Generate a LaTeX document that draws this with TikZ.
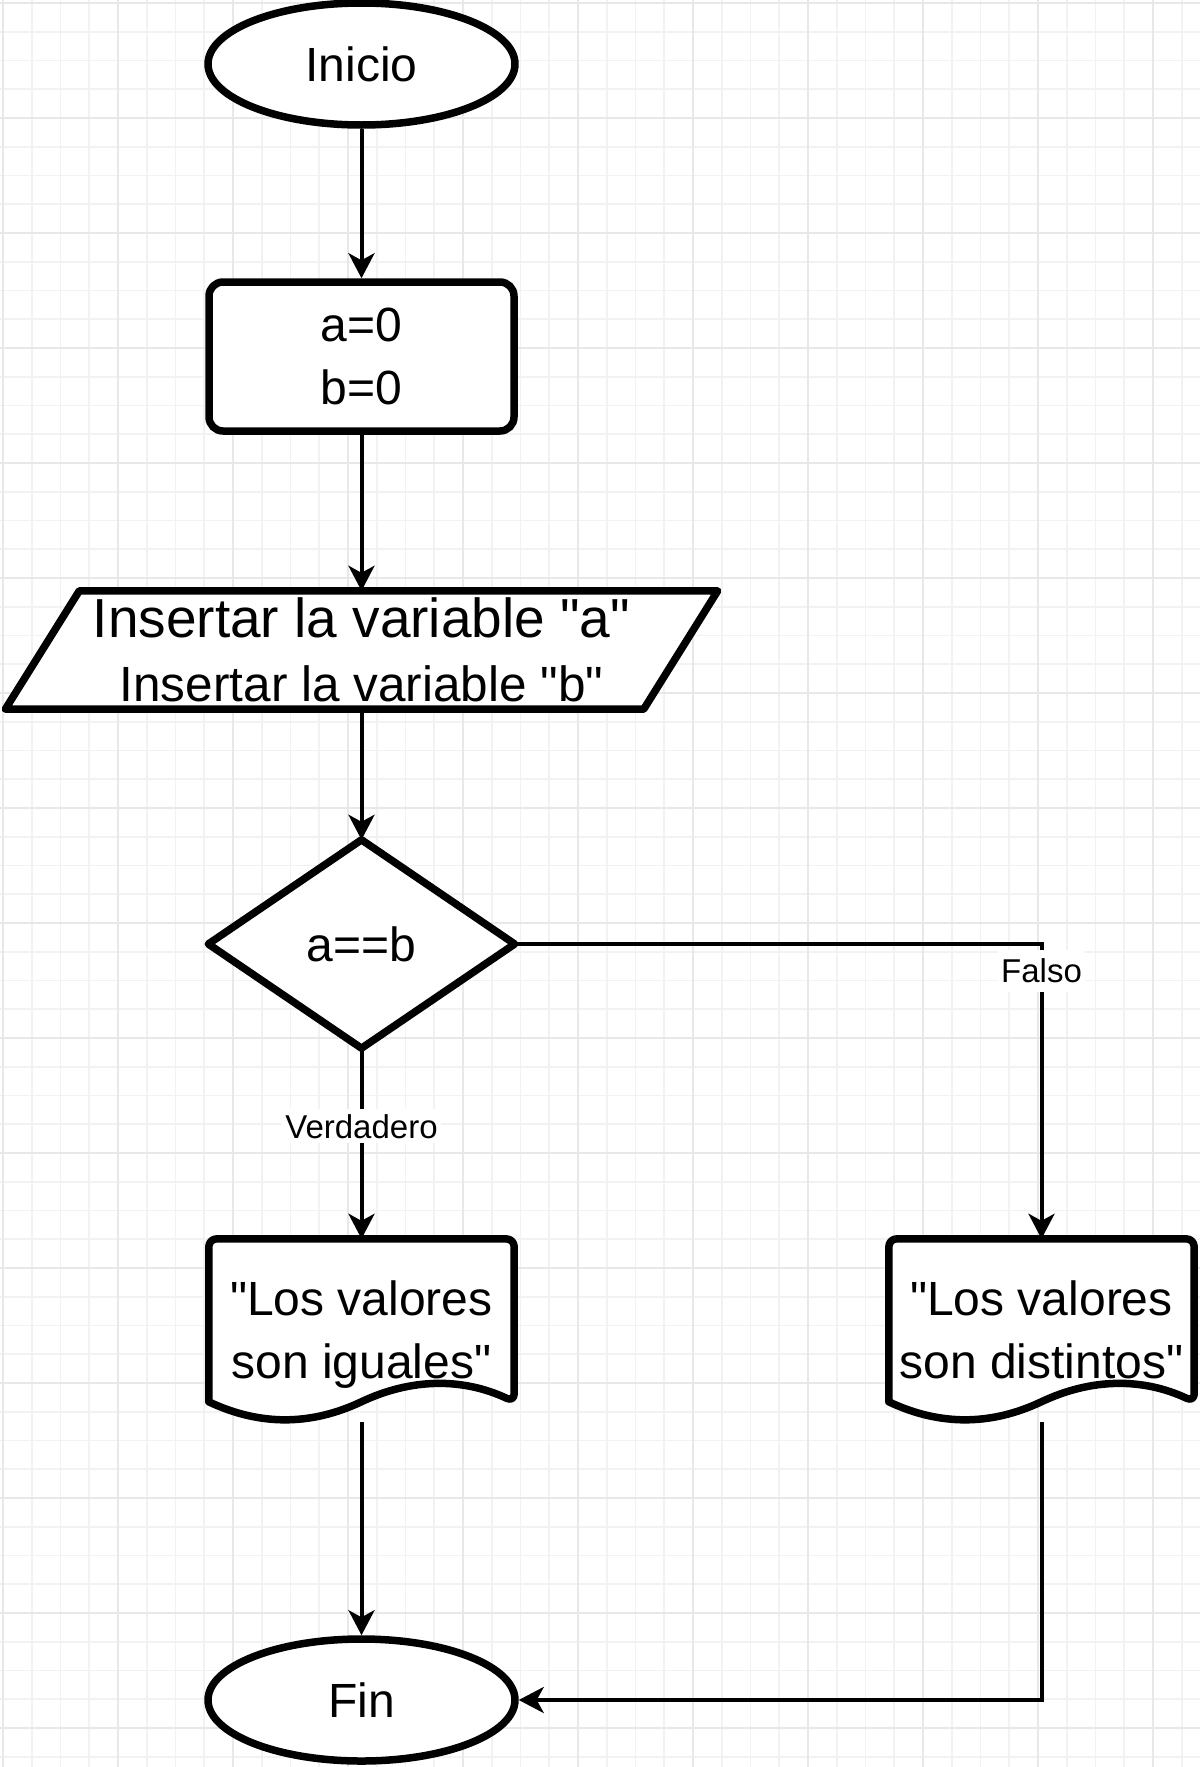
\documentclass[tikz,border=0pt]{standalone}
\usepackage{fontspec}
\setmainfont{Liberation Sans}[Ligatures=TeXOff]
\usetikzlibrary{shapes.geometric,arrows.meta,calc}
\pgfdeclarelayer{gridlayer}
\pgfdeclarelayer{shapelayer}
\pgfsetlayers{gridlayer,shapelayer,main}
\newcommand\flowdocpath[1]{%
  \draw[shapeline, fill=white]
    ($(#1.north west)+(0,163)$) [rounded corners=8pt] -- (#1.north west) -- (#1.north east)
    -- ($(#1.north east)+(0,163)$) [sharp corners]
    .. controls ($(#1.north west)+(254.2,139)$) and ($(#1.north west)+(203.3,139)$) .. ($(#1.north west)+(152.5,163)$)
    .. controls ($(#1.north west)+(101.7,187)$) and ($(#1.north west)+(50.8,187)$) .. ($(#1.north west)+(0,163)$) -- cycle;}
\begin{document}
\begin{tikzpicture}[x=1pt,y=-1pt,
  gridminor/.style={draw=black!5, line width=1.6pt},
  gridmajor/.style={draw=black!9, line width=1.8pt},
  shapeline/.style={draw=black, line width=7.5pt, line join=round},
  conn/.style={draw=black, line width=4pt, -{Stealth[length=25pt,width=26pt,inset=7pt]}},
  txt/.style={font=\fontsize{48}{63}\selectfont, align=center, inner sep=0pt},
  term/.style={ellipse, shapeline, fill=white, minimum width=307pt, minimum height=122pt, txt},
  procbox/.style={rectangle, shapeline, fill=white, rounded corners=14pt, minimum width=305pt, minimum height=149pt, txt},
  ghost/.style={rectangle, txt},
  docbox/.style={rectangle, inner sep=0pt, minimum width=305pt, minimum height=183pt},
  lblv/.style={font=\fontsize{33}{38}\selectfont, fill=white, inner xsep=3pt, inner ysep=5pt},
  lblf/.style={font=\fontsize{33}{38}\selectfont, fill=white, inner xsep=3pt, inner ysep=9pt}
]
\useasboundingbox (0,0) rectangle (1200,1767);
\begin{pgfonlayer}{gridlayer}
  \fill[white] (0,0) rectangle (1200,1767);
  \foreach \i in {0,...,41} \draw[gridminor] ({3+28.75*\i},0) -- ({3+28.75*\i},1767);
  \foreach \i in {0,...,61} \draw[gridminor] (0,{3+28.75*\i}) -- (1200,{3+28.75*\i});
  \foreach \i in {0,...,10} \draw[gridmajor] ({3+115*\i},0) -- ({3+115*\i},1767);
  \foreach \i in {0,...,15} \draw[gridmajor] (0,{3+115*\i}) -- (1200,{3+115*\i});
\end{pgfonlayer}

% nodes
\node[term] (ini) at (361.5,64) {Inicio};
\node[procbox] (r1) at (361.5,356.5) {a=0\\b=0};
\node[ghost, font=\fontsize{55}{64}\selectfont, minimum width=712pt, minimum height=118pt] (io) at (361.5,650)
  {Insertar la variable "a"\\{\fontsize{49.5}{64}\selectfont Insertar la variable "b"}};
\node[ghost, minimum width=306pt, minimum height=208pt] (dia) at (361.5,944) {a==b};
\node[docbox] (d1) at (361.5,1330.5) {};
\node[docbox] (d2) at (1041.5,1330.5) {};
\node[ghost] (d1text) at (361.5,1335) {"Los valores\\son iguales"};
\node[ghost] (d2text) at (1041.5,1330) {"Los valores\\son distintos"};
\node[term] (fin) at (361.5,1700) {Fin};

% shape outlines for drawn shapes
\begin{pgfonlayer}{shapelayer}
  \draw[shapeline, fill=white] ($(io.north west)+(74,0)$) -- (io.north east)
    -- ($(io.south east)+(-74,0)$) -- (io.south west) -- cycle;
  \draw[shapeline, fill=white] (dia.north) -- (dia.east) -- (dia.south) -- (dia.west) -- cycle;
  \flowdocpath{d1}
  \flowdocpath{d2}
\end{pgfonlayer}

% connectors
\draw[conn] (ini) -- (r1);
\draw[conn] (r1) -- (io);
\draw[conn] (io) -- (dia);
\draw[conn] (dia) -- node[lblv, pos=0.41] {Verdadero} (d1);
\draw[conn] (dia.east) -| node[lblf, pos=0.546] {Falso} (d2.north);
\draw[conn] (d1.south) -- (fin);
\draw[conn] (d2.south) |- (fin);
\end{tikzpicture}
\end{document}
